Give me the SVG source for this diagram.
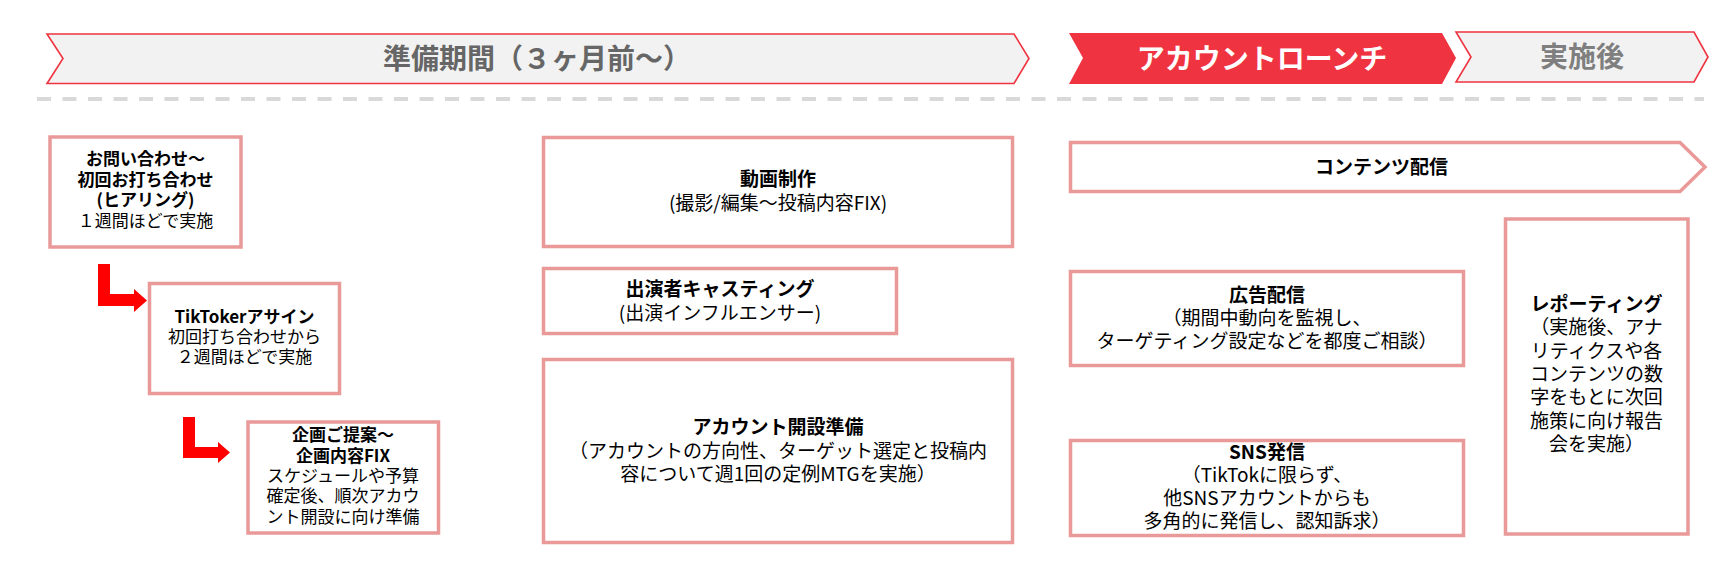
<svg xmlns="http://www.w3.org/2000/svg" width="1730" height="569" viewBox="0 0 1730 569">
<defs>
<style>
text{font-family:"Noto Sans CJK JP","Noto Sans",sans-serif;fill:#000;text-anchor:middle}
.b{font-weight:700}
.s17{font-size:17px}
.s19{font-size:19px}
.ban{font-size:28px;font-weight:700}
.box{fill:#fff;stroke:#ea9999;stroke-width:3.5}
.phase{fill:#f2f2f2;stroke:#ef3340;stroke-width:1.6}
.red{fill:#ff0000}
</style>
</defs>
<rect width="1730" height="569" fill="#fff"/>

<g id="phase-prep">
<polygon class="phase" points="47,34 1014,34 1029,58.5 1014,83.5 47,83.5 63,58.5"/>
<text class="ban" x="537" y="69" style="fill:#666">準備期間（３ヶ月前〜）</text>
</g>
<g id="phase-launch">
<polygon points="1069,33 1442,33 1456,58 1442,84 1069,84 1083,58" fill="#ef3340"/>
<text class="ban" x="1262" y="69" style="fill:#fff">アカウントローンチ</text>
</g>
<g id="phase-after">
<polygon class="phase" points="1456,32 1694,32 1708,57 1694,82 1456,82 1471,57"/>
<text class="ban" x="1582" y="67" style="fill:#7f7f7f">実施後</text>
</g>

<line x1="37" y1="99" x2="1704" y2="99" stroke="#d9d9d9" stroke-width="4" stroke-dasharray="14 11.5"/>

<g id="connectors">
<path class="red" d="M98,264 H110 V294 H134 V289 L147,300.5 L134,312 V306 H98 Z"/>
<path class="red" d="M183,417 H195 V447 H218 V442 L230,452.5 L218,463 V458 H183 Z"/>
</g>

<g id="n-inquiry">
<rect class="box" x="50" y="137" width="191" height="110"/>
<text class="s17"><tspan class="b" x="145.5" y="165">お問い合わせ〜</tspan><tspan class="b" x="145.5" y="185.5">初回お打ち合わせ</tspan><tspan class="b" x="145.5" y="206">(ヒアリング)</tspan><tspan x="145.5" y="226.5">１週間ほどで実施</tspan></text>
</g>

<g id="n-tiktoker">
<rect class="box" x="149.5" y="283.5" width="190" height="110"/>
<text class="s17"><tspan class="b" x="244.5" y="323">TikTokerアサイン</tspan><tspan x="244.5" y="343">初回打ち合わせから</tspan><tspan x="244.5" y="363">２週間ほどで実施</tspan></text>
</g>

<g id="n-plan">
<rect class="box" x="248" y="422" width="190.5" height="111"/>
<text class="s17"><tspan class="b" x="343" y="441">企画ご提案〜</tspan><tspan class="b" x="343" y="461.5">企画内容FIX</tspan><tspan x="343" y="482">スケジュールや予算</tspan><tspan x="343" y="502">確定後、順次アカウ</tspan><tspan x="343" y="522.5">ント開設に向け準備</tspan></text>
</g>

<g id="n-video">
<rect class="box" x="543.5" y="137.5" width="469" height="109"/>
<text class="s19"><tspan class="b" x="778" y="186">動画制作</tspan><tspan x="778" y="210">(撮影/編集〜投稿内容FIX)</tspan></text>
</g>

<g id="n-casting">
<rect class="box" x="543.5" y="268.5" width="353" height="65"/>
<text class="s19"><tspan class="b" x="720" y="296">出演者キャスティング</tspan><tspan x="720" y="320">(出演インフルエンサー)</tspan></text>
</g>

<g id="n-account">
<rect class="box" x="543.5" y="359.5" width="469" height="183"/>
<text class="s19"><tspan class="b" x="778" y="434">アカウント開設準備</tspan><tspan x="778" y="457.5">（アカウントの方向性、ターゲット選定と投稿内</tspan><tspan x="778" y="481">容について週1回の定例MTGを実施）</tspan></text>
</g>

<g id="n-content">
<polygon class="box" points="1070.5,142.5 1680,142.5 1705,167 1680,191.5 1070.5,191.5"/>
<text class="s19 b" x="1381.5" y="174">コンテンツ配信</text>
</g>

<g id="n-ads">
<rect class="box" x="1070.5" y="271.5" width="393" height="94"/>
<text class="s19"><tspan class="b" x="1267" y="302">広告配信</tspan><tspan x="1267" y="325">（期間中動向を監視し、</tspan><tspan x="1267" y="347.5">ターゲティング設定などを都度ご相談）</tspan></text>
</g>

<g id="n-sns">
<rect class="box" x="1070.5" y="440.5" width="393" height="95"/>
<text class="s19"><tspan class="b" x="1267" y="459">SNS発信</tspan><tspan x="1267" y="482">（TikTokに限らず、</tspan><tspan x="1267" y="505">他SNSアカウントからも</tspan><tspan x="1267" y="528">多角的に発信し、認知訴求）</tspan></text>
</g>

<g id="n-report">
<rect class="box" x="1505.5" y="219" width="182.5" height="315"/>
<text class="s19"><tspan class="b" x="1596.5" y="311">レポーティング</tspan><tspan x="1596.5" y="334">（実施後、アナ</tspan><tspan x="1596.5" y="357.5">リティクスや各</tspan><tspan x="1596.5" y="381">コンテンツの数</tspan><tspan x="1596.5" y="404">字をもとに次回</tspan><tspan x="1596.5" y="427.5">施策に向け報告</tspan><tspan x="1596.5" y="451">会を実施）</tspan></text>
</g>
</svg>
